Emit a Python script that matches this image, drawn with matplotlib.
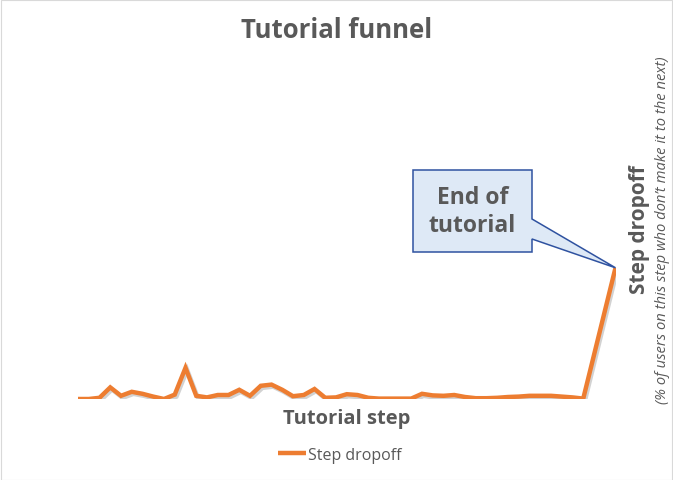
import numpy as np
import matplotlib
matplotlib.use("Agg")
import matplotlib.pyplot as plt
import matplotlib.patheffects as pe
from matplotlib.patches import Polygon, Rectangle

# ---- data ----
steps = list(range(1, 52))
dropoff = [0.0, 0.0, 0.3, 2.9, 0.8, 1.8, 1.3, 0.6, 0.0, 1.1,
           7.8, 0.8, 0.4, 1.0, 1.0, 2.3, 0.8, 3.3, 3.6, 2.3,
           0.7, 1.0, 2.5, 0.3, 0.4, 1.2, 1.0, 0.3, 0.1, 0.1,
           0.1, 0.1, 1.3, 0.9, 0.8, 1.0, 0.5, 0.2, 0.2, 0.3,
           0.5, 0.6, 0.8, 0.8, 0.8, 0.6, 0.4, 0.1, None, None,
           32.8]
series_name = "Step dropoff"
title = "Tutorial funnel"
x_label = "Tutorial step"
y_label = "Step dropoff"
y_sub = "(% of users on this step who don\u2019t make it to the next)"
callout_text = "End of\ntutorial"

plt.rcParams['font.family'] = ['Open Sans', 'DejaVu Sans']
GRAY = '#595959'
ORANGE = '#ED7D31'

W, H = 673, 481
fig = plt.figure(figsize=(W / 100, H / 100), dpi=100)
fig.patch.set_facecolor('white')

ax = fig.add_axes([78 / W, (H - 400) / H, 537.5 / W, 340 / H])
xs = [s for s, v in zip(steps, dropoff) if v is not None]
ys = [v for v in dropoff if v is not None]
line, = ax.plot(xs, ys, color=ORANGE, lw=3.2, label=series_name,
                solid_joinstyle='miter', solid_capstyle='butt', zorder=3)
line.set_path_effects([pe.SimpleLineShadow(offset=(1.2, -1.5), shadow_color='#7f7f7f', alpha=0.35),
                       pe.Normal()])
ax.set_xlim(steps[0], steps[-1])
ax.set_ylim(0, 85)
ax.axis('off')

# Title & labels
fig.text(337 / W, 1 - 30 / H, title, ha='center', va='center', fontsize=18.5,
         fontweight='bold', color=GRAY)
fig.text(347 / W, 1 - 419 / H, x_label, ha='center', va='center', fontsize=14.5,
         fontweight='bold', color=GRAY)
fig.text(640 / W, 1 - 230 / H, y_label, ha='center', va='center', fontsize=15,
         fontweight='bold', color=GRAY, rotation=90)
fig.text(662 / W, 1 - 230 / H, y_sub, ha='center', va='center', fontsize=10.6,
         style='italic', color=GRAY, rotation=90)

# Legend
leg = fig.legend(handles=[line], loc='center', bbox_to_anchor=(340 / W, 1 - 456 / H),
                 frameon=False, fontsize=11.5, handlelength=1.75, handletextpad=0.15,
                 borderpad=0)
for t in leg.get_texts():
    t.set_color(GRAY)
leg.legend_handles[0].set_path_effects([])

# Callout anchored to the last data point
fig.canvas.draw()
tip_disp = ax.transData.transform((xs[-1], ys[-1]))
tip = fig.transFigure.inverted().transform(tip_disp)
def fp(x, y):
    return (x / W, 1 - y / H)
bx0, bx1, by0, by1 = 413, 532, 171, 253
poly = [fp(bx0, by0), fp(bx1, by0), fp(bx1, 220), tuple(tip), fp(bx1, 240),
        fp(bx1, by1), fp(bx0, by1)]
fig.patches.append(Polygon(poly, closed=True, transform=fig.transFigure,
                           facecolor='#DEE9F6', edgecolor='#2F52A0', lw=1.1,
                           joinstyle='miter', zorder=5))
fig.text((bx0 + bx1) / 2 / W, 1 - 212 / H, callout_text, ha='center', va='center',
         fontsize=16.5, fontweight='bold', color=GRAY, linespacing=1.2, zorder=6)

# Chart border
fig.patches.append(Rectangle((0.5 / W, 0.5 / H), 1 - 1.5 / W, 1 - 1.5 / H,
                             transform=fig.transFigure, fill=False,
                             edgecolor='#D9D9D9', lw=0.8))

fig.savefig('out.png', dpi=100, facecolor='white')
